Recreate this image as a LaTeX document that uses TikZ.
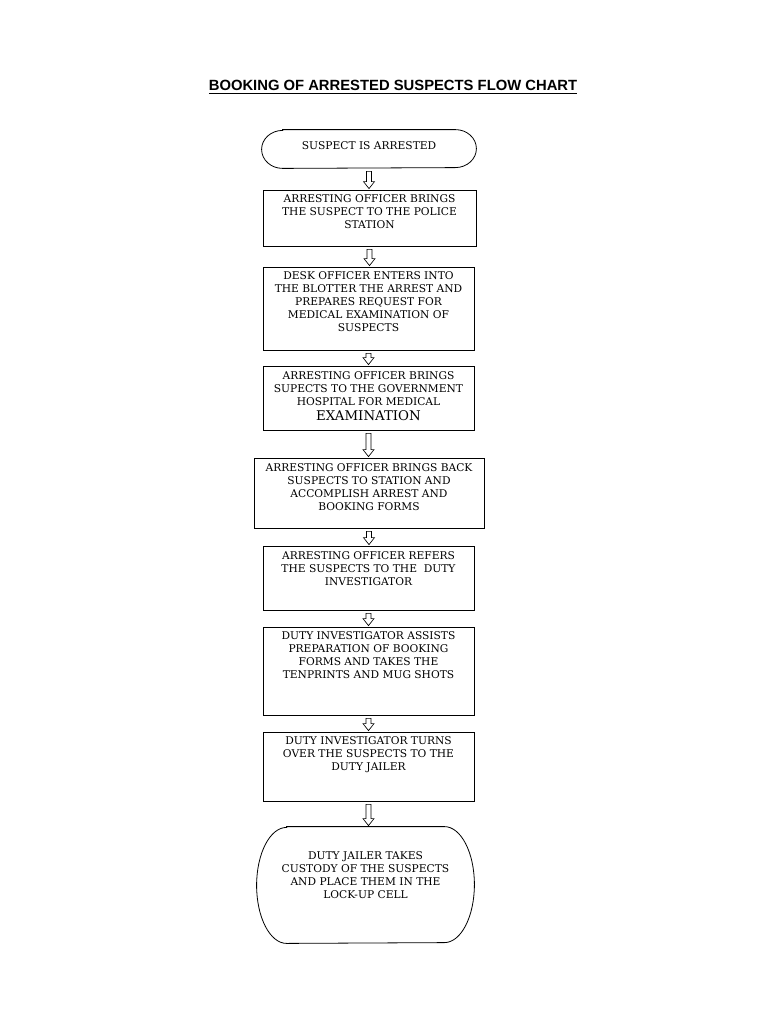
\documentclass[tikz,border=0pt]{standalone}
\usepackage{fontspec}
\setmainfont{DejaVu Serif}
\newfontfamily\titlefont{Liberation Sans}
\usetikzlibrary{calc}
\newlength\unitpx
\setlength\unitpx{0.75pt}
\tikzstyle{stepbox}=[draw,line width=0.6pt,inner sep=0pt,font=\fontsize{8}{9.7}\selectfont]
\tikzstyle{termbox}=[stepbox,draw=none]
\tikzstyle{hollow}=[draw,line width=0.5pt,fill=white,line join=miter]
% box text: width, height, top gap (all in px), then the lines
\newcommand{\boxtext}[4]{\parbox[c][#2\unitpx][t]{#1\unitpx}{\centering\vspace*{#3\unitpx}#4\par}}
% outline of a terminal: node, end radius, half height (px)
\newcommand{\termline}[3]{%
  \draw[line width=0.6pt] ($(#1.north west)+(#2,0)$) -- ($(#1.north east)+(-#2,0)$)
    arc[start angle=90,end angle=-90,x radius=#2\unitpx,y radius=#3\unitpx]
    -- ($(#1.south west)+(#2,0)$)
    arc[start angle=270,end angle=90,x radius=#2\unitpx,y radius=#3\unitpx] -- cycle;}
% hollow down arrow from one step to the next
\newcommand{\flowarrow}[2]{%
  \draw[hollow] ($(#1.south)+(-2.5,-3)$) -- ($(#1.south |- #2.north)+(-2.5,8)$)
    -- ($(#1.south |- #2.north)+(-5.5,8)$) -- ($(#1.south |- #2.north)+(0,1)$)
    -- ($(#1.south |- #2.north)+(5.5,8)$) -- ($(#1.south |- #2.north)+(2.5,8)$)
    -- ($(#1.south)+(2.5,-3)$) -- cycle;}
\begin{document}
\begin{tikzpicture}[x=0.75pt,y=0.75pt]
    \useasboundingbox[fill=white] (0,0) rectangle (768,-1024);
    % Title
    \node[font=\titlefont\bfseries\fontsize{11.1}{13}\selectfont] (title) at (393,-87)
        {\underline{BOOKING OF ARRESTED SUSPECTS FLOW CHART}};
    % Start and end terminals
    \node[termbox] (start) at (369,-149) {\boxtext{214}{38}{12}{SUSPECT IS ARRESTED}};
    \termline{start}{21}{19}
    % The steps
    \node[stepbox] (bring) at (369.5,-218) {\boxtext{213}{56}{5}{ARRESTING OFFICER BRINGS\\THE SUSPECT TO THE POLICE\\STATION}};
    \node[stepbox] (blotter) at (368.5,-308.5) {\boxtext{211}{83}{5}{DESK OFFICER ENTERS INTO\\THE BLOTTER THE ARREST AND\\PREPARES REQUEST FOR\\MEDICAL EXAMINATION OF\\SUSPECTS}};
    \node[stepbox] (hospital) at (368.5,-398) {\boxtext{211}{64}{6}{ARRESTING OFFICER BRINGS\\SUPECTS TO THE GOVERNMENT\\HOSPITAL FOR MEDICAL\\[1.5pt]{\fontsize{10}{12}\selectfont EXAMINATION}}};
    \node[stepbox] (back) at (369,-493) {\boxtext{230}{70}{6}{ARRESTING OFFICER BRINGS BACK\\SUSPECTS TO STATION AND\\ACCOMPLISH ARREST AND\\BOOKING FORMS}};
    \node[stepbox] (refer) at (368.5,-578) {\boxtext{211}{64}{6}{ARRESTING OFFICER REFERS\\THE SUSPECTS TO THE \ DUTY\\INVESTIGATOR}};
    \node[stepbox] (assist) at (368.5,-671) {\boxtext{211}{88}{5}{DUTY INVESTIGATOR ASSISTS\\PREPARATION OF BOOKING\\FORMS AND TAKES THE\\TENPRINTS AND MUG SHOTS}};
    \node[stepbox] (turn) at (368.5,-766.5) {\boxtext{211}{69}{5}{DUTY INVESTIGATOR TURNS\\OVER THE SUSPECTS TO THE\\DUTY JAILER}};
    \node[termbox] (jail) at (365.5,-885) {\boxtext{217}{116}{25}{DUTY JAILER TAKES\\CUSTODY OF THE SUSPECTS\\AND PLACE THEM IN THE\\LOCK-UP CELL}};
    \termline{jail}{30}{58}
    % Connect the steps with hollow arrows
    \foreach \source/\dest in {start/bring,bring/blotter,blotter/hospital,hospital/back,back/refer,refer/assist,assist/turn,turn/jail}
        {\flowarrow{\source}{\dest}}
\end{tikzpicture}
\end{document}
